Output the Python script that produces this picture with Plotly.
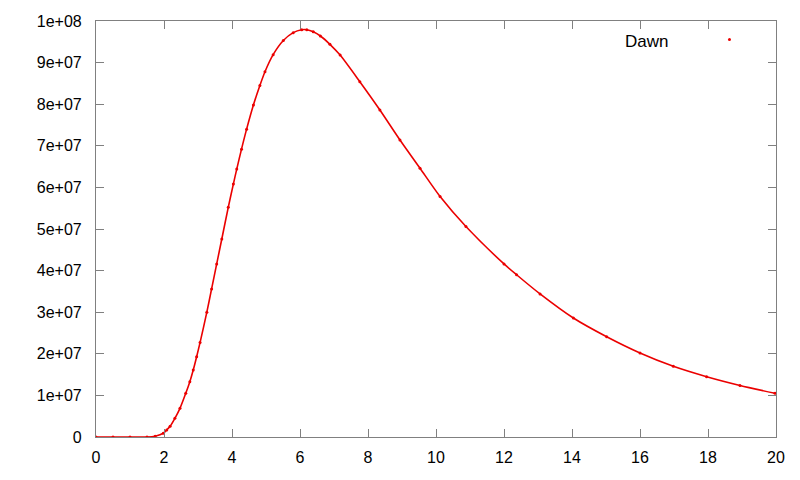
import plotly.graph_objects as go

# values
time = [0.0, 0.5, 1.0, 1.5, 1.74, 1.98, 2.08, 2.18, 2.32, 2.47, 2.64, 2.76,
        2.86, 2.96, 3.06, 3.26, 3.40, 3.55, 3.70, 3.89, 4.04, 4.14, 4.28, 4.43,
        4.63, 4.82, 4.97, 5.21, 5.51, 5.8, 6.05, 6.2, 6.39, 6.6, 6.88, 7.18,
        7.76, 8.35, 8.94, 9.53, 10.12, 10.88, 12.0, 12.37, 13.06, 14.04, 15.02,
        16.0, 16.98, 17.96, 18.94, 19.97]
dawn = [0.0, 0.0, 0.0, 0.0, 0.2e6, 0.9e6, 1.7e6, 2.6e6, 4.5e6, 6.9e6, 10.5e6, 13.3e6,
        16.1e6, 19.3e6, 22.7e6, 30.0e6, 35.6e6, 41.6e6, 47.6e6, 55.2e6, 60.8e6, 64.4e6, 69.2e6, 74.0e6,
        79.8e6, 84.5e6, 87.8e6, 91.9e6, 95.3e6, 97.2e6, 97.9e6, 97.9e6, 97.4e6, 96.4e6, 94.4e6, 91.8e6,
        85.4e6, 78.6e6, 71.4e6, 64.6e6, 57.8e6, 50.6e6, 41.6e6, 39.0e6, 34.4e6, 28.6e6, 24.1e6,
        20.2e6, 17.0e6, 14.5e6, 12.4e6, 10.5e6]

x_ticks = [0, 2, 4, 6, 8, 10, 12, 14, 16, 18, 20]
y_ticks = [0, 1e7, 2e7, 3e7, 4e7, 5e7, 6e7, 7e7, 8e7, 9e7, 1e8]
y_tick_labels = ['0', '1e+07', '2e+07', '3e+07', '4e+07', '5e+07',
                 '6e+07', '7e+07', '8e+07', '9e+07', '1e+08']

RED = 'rgb(235,0,0)'
FRAME = 'rgb(128,128,128)'
FONT = 'Liberation Sans, Arial, sans-serif'

# curve itself
curve = go.Scatter(
    x=time,
    y=dawn,
    mode='lines',
    line=dict(color=RED, width=1.6, shape='spline', smoothing=0.7),
    showlegend=False,
    hoverinfo='skip',
)
# gnuplot style point key (text left, dot right)
key = go.Scatter(
    x=time,
    y=dawn,
    mode='markers',
    marker=dict(color=RED, size=3),
    name='',
)

axis_style = dict(
    showgrid=False,
    zeroline=False,
    showline=True,
    linecolor=FRAME,
    linewidth=1.2,
    mirror='ticks',
    ticks='inside',
    ticklen=8,
    tickcolor=FRAME,
    tickfont=dict(family=FONT, size=16, color='black'),
)

# page body adds an 8px offset, margins are shifted to compensate
layout = go.Layout(
    width=800,
    height=480,
    plot_bgcolor='white',
    paper_bgcolor='white',
    margin=dict(l=88, r=32, t=13, b=51, autoexpand=False),
    xaxis=dict(range=[0, 20], tickvals=x_ticks, ticklabelstandoff=6, **axis_style),
    yaxis=dict(range=[0, 1e8], tickvals=y_ticks, ticktext=y_tick_labels,
               ticklabelstandoff=10, **axis_style),
    legend=dict(
        title=dict(text='Dawn', side='left', font=dict(family=FONT, size=17, color='black')),
        x=0.775, y=0.951, xanchor='left', yanchor='middle',
        bgcolor='rgba(0,0,0,0)',
        itemwidth=96,
    ),
)

fig = go.Figure(data=[curve, key], layout=layout)
fig.write_html("out.html")
